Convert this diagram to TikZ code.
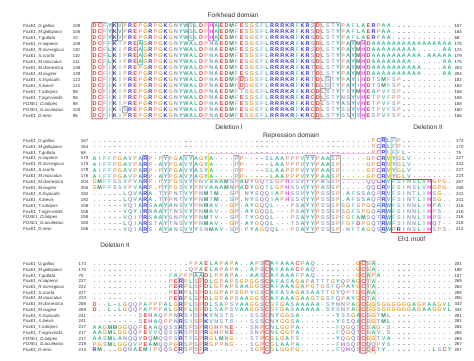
\documentclass[tikz,border=0pt]{standalone}
\usepackage{fontspec}
\setmainfont{Liberation Sans}
\definecolor{aaA}{HTML}{33B890}
\definecolor{aaC}{HTML}{E8484A}
\definecolor{aaD}{HTML}{E83838}
\definecolor{aaE}{HTML}{E83838}
\definecolor{aaF}{HTML}{7CC8C8}
\definecolor{aaG}{HTML}{E8A030}
\definecolor{aaH}{HTML}{E040E0}
\definecolor{aaI}{HTML}{58B8A8}
\definecolor{aaK}{HTML}{3838D8}
\definecolor{aaL}{HTML}{40B088}
\definecolor{aaM}{HTML}{2E9060}
\definecolor{aaN}{HTML}{9098B8}
\definecolor{aaP}{HTML}{E0A080}
\definecolor{aaQ}{HTML}{9C90C8}
\definecolor{aaR}{HTML}{3838D8}
\definecolor{aaS}{HTML}{98A8C8}
\definecolor{aaT}{HTML}{98A8C8}
\definecolor{aaV}{HTML}{58B8A8}
\definecolor{aaW}{HTML}{40B0A0}
\definecolor{aaY}{HTML}{30A8B0}
\definecolor{gapc}{HTML}{B0B0B0}
\definecolor{txtc}{HTML}{333333}
\definecolor{boxgray}{HTML}{707C7C}
\definecolor{boxred}{HTML}{E03C3C}
\definecolor{boxblue}{HTML}{4848C8}
\definecolor{boxmag}{HTML}{D048C8}
\definecolor{boxteal}{HTML}{40A8A0}
\definecolor{boxorange}{HTML}{E0A040}
\definecolor{boxyellow}{HTML}{F2E23A}
\def\Gten{----------}
\def\Gfive{-----}
\makeatletter
\def\sq@loop#1{\ifx#1\relax\else\seqchar#1\expandafter\sq@loop\fi}
\newcommand\seqline[1]{\edef\sq@tmp{#1}\expandafter\sq@loop\sq@tmp\relax}
\makeatother
\newcommand\seqchar[1]{\makebox[5.07pt][c]{\if-#1\textcolor{gapc}{\rule[1.6pt]{1.2pt}{0.5pt}}\else\textcolor{aa#1}{#1}\fi}}
\newcommand\srow[6]{%
  \node[nm] (n#1) at (23,#2) {#3};
  \node[num] (a#1) at (\numx,#2) {#4};
  \node[sq] (s#1) at (91.97,#2) {\seqline{#5}};
  \node[num] (e#1) at (\rnumx,#2) {#6};}
\newcommand\cb[7]{\draw[#1] ({94.5+5.07*(#4)-2.55},{#2+#3*(#6)-3.1}) rectangle ({94.5+5.07*(#5)+2.55},{#2+#3*(#7)+3.1});}
\tikzset{
  nm/.style={anchor=west, inner sep=0, text=txtc, font=\fontsize{4.4}{4.4}\selectfont\itshape, text height=3.1pt, text depth=0pt},
  num/.style={anchor=west, inner sep=0, text=txtc, font=\fontsize{4.4}{4.4}\selectfont, text height=3.1pt, text depth=0pt},
  sq/.style={anchor=west, inner sep=0, font=\fontsize{5.5}{5.5}\selectfont\bfseries, text height=3.95pt, text depth=0pt},
  lbl/.style={inner sep=0, text=txtc, font=\fontsize{6.5}{6.5}\selectfont},
  gb/.style={draw=boxgray, line width=0.55pt, rounded corners=0.6pt},
  rb/.style={draw=boxred, line width=0.55pt, rounded corners=0.6pt},
  bb/.style={draw=boxblue, line width=0.6pt, rounded corners=0.6pt},
  mb/.style={draw=boxmag, line width=0.55pt, rounded corners=0.6pt},
  tb/.style={draw=boxteal, line width=0.55pt, rounded corners=0.6pt},
  ob/.style={draw=boxorange, line width=0.55pt, rounded corners=0.6pt},
  eh/.style={draw=boxred, line width=0.8pt},
  yb/.style={draw=boxyellow, line width=0.9pt}
}
\begin{document}
\begin{tikzpicture}[x=1pt,y=-1pt]
\useasboundingbox (0,0) rectangle (474,361);
\fill[white] (0,0) rectangle (474,361);
% ---------------- block 1
\def\numx{72.7}\def\rnumx{454.3}
\srow{A1}{25.7}{FoxE1\_G.gallus}{109}{DCFYKVPREPGRPGKGNYWSLDPHAEDMFESGSFLRRRKRFKRSDLSTYPAFLAERPAA\Gten --}{167}
\srow{A2}{31.7}{FoxE1\_M.gallopavo}{106}{DCFYKVPREPGRPGKGNYWSLDPHAEDMFESGSFLRRRKRFKRSDLSTYPAFLAERPAA\Gten --}{164}
\srow{A3}{37.7}{FoxE1\_T.guttata}{10}{DCFYKVPREPGRPGKGNYWSLDPHAEDMFESGSFLRRRKRFKRSDLSTYPAFLAERPAA\Gten --}{68}
\srow{A4}{43.7}{FoxE1\_H.sapiens}{109}{DCFFKIPREAGRPGKGNYWALDPNAEDMFESGSFLRRRKRFKRSDLSTYPAYMHDAAAAAAAAAAAAAAAA}{179}
\srow{A5}{49.7}{FoxE1\_R.norvegicus}{110}{DCFLKIPREAGRPGKGNYWALDPNAEDMFESGSFLRRRKRFKRSDLSTYPAYMHDAAAAAAAAA-----AA}{174}
\srow{A6}{55.7}{FoxE1\_S.scorfa}{110}{DCFLKIPREAGRPGKGNYWALDPNAEDMFESGSFLRRRKRFKRSDLSTYPAYMHDAAAAAAAAAA-AAAAA}{179}
\srow{A7}{61.7}{FoxE1\_M.musculus}{111}{DCFLKIPREAGRPGKGNYWALDPNAEDMFESGSFLRRRKRFKRSDLSTYPAYMHDAAAAAAAA------AA}{175}
\srow{A8}{67.7}{FoxE1\_M.domestica}{138}{DCFIKIPREPGRPGKGNYWALDPNAEDMFESGSFLRRRKRFKRTDLSTYPAYMHDAAAAAAAAAA----AA}{203}
\srow{A9}{73.7}{FoxE1\_M.eugeni}{139}{DCFIKIPREPGRPGKGNYWALDPNAEDMFESGSFLRRRKRFKRTDLSTYPAYMHDAAAAAAAAAA----AA}{204}
\srow{A10}{79.7}{FoxE1\_X.tropicalis}{122}{DCFIKIPREPGRPGKGNYWALDPNAEDMFDSGSFLRRRKRFKRTDLSTYPAYIHDTSMFSP\Gten}{182}
\srow{A11}{85.7}{FoxE1\_X.laevis}{122}{DCFIKIPREPGRPGKGNYWALDPNAEDMFDSGSFLRRRKRFKRTDLSTYPAYIHDTSMFSP\Gten}{182}
\srow{A12}{91.7}{FoxE1\_T.rubripes}{98}{DCFIKIPREPGRPGKGNYWALDPNAEDMFTSGSFLRRRKRFKRCDLSTYTSYMHEAPVFSP\Gten}{158}
\srow{A13}{97.7}{FoxE1\_T.nigroviridis}{98}{DCFIKIPREPGRPGKGNYWALDPNAEDMFESGSFLRRRKRFKRCDLSTYNSYVHETPVFPP\Gten}{158}
\srow{A14}{103.7}{FOXE1\_O.latipes}{98}{DCFIKIPREPGRPGKGNYWALDPNAEDMFESGSFLRRRKRFKRCDLSTYASYVHETPVFSP\Gten}{158}
\srow{A15}{109.7}{FOXE1\_G.aculeatus}{100}{DCFIKISREPGRPGKGNYWALDPNAEDMFESGSFLRRRKRFKRCDLSTYSSYVHETPVFSP\Gten}{160}
\srow{A16}{115.7}{FoxE1\_D.rerio}{96}{DCFIKIPREPGRPGKGNYWALDPNAEDMFESGSFLRRRKRFKRCDLSTYSSYVHESPVFSP\Gten}{156}
% ---------------- block 2
\def\numx{80.7}\def\rnumx{456}
\srow{B1}{140.7}{FoxE1\_G.gallus}{167}{\Gten\Gten\Gten\Gten\Gten\Gfive PCRLFP\Gten}{173}
\srow{B2}{146.6}{FoxE1\_M.gallopavo}{164}{\Gten\Gten\Gten\Gten\Gten\Gfive PCRLFP\Gten}{170}
\srow{B3}{152.5}{FoxE1\_T.guttata}{68}{\Gten\Gten\Gten\Gten\Gten\Gfive PCRLFFL\Gfive ----}{75}
\srow{B4}{158.4}{FoxE1\_H.sapiens}{179}{AIFFPGAVPARP-PYPGAVYAGYA----PP----SLAAPPPVYYPAASP\Gfive GPCRVYGLV--------}{227}
\srow{B5}{164.3}{FoxE1\_R.norvegicus}{175}{AIFFPGAVPARP-AYPGAVYAGYA----PP-----LAAPPPVYYPAASP\Gfive GPCRVYGLV--------}{222}
\srow{B6}{170.2}{FoxE1\_S.scorfa}{179}{AIFFPGAVPARP-PYPGAVYASYA----PP----SLAAPPPVYYPAASP\Gfive GPCRVYGLV--------}{227}
\srow{B7}{176.1}{FoxE1\_M.musculus}{176}{AIFFPGAVPARP-AYPGAVYAGYA----PP-----LAAPPPVYYPAASP\Gfive GPCRVYGLV--------}{223}
\srow{B8}{182.0}{FoxE1\_M.domestica}{204}{GMFFSSVPVARP-PYPGSVYPNVAAAMSPADYGQTLGPHSSVYYPASSP\Gfive QQCRVFSINSLVHGPG-}{267}
\srow{B9}{187.9}{FoxE1\_M.eugeni}{205}{GMFFSSVPVARP-PYPGSVYPNVAAAMNPADYGQTLGPHSSVYYPASSP\Gfive QQCRVFSINSLVHGPG-}{268}
\srow{B10}{193.8}{FoxE1\_X.tropicalis}{182}{------LQVARA-TYPNTVYPNMTM--SP-NYSQQIAPHSSVYYPSSSP-AFSSAQPRVFSINTLIHSG--}{241}
\srow{B11}{199.7}{FoxE1\_X.laevis}{182}{------LQVARA-TYPNTVYPNMTM--SP-NYSQQIAPHSSVYYPSSSP-AFSSAQPRVFSINTLIHSG--}{241}
\srow{B12}{205.6}{FoxE1\_T.rubripes}{158}{------VQIARSAAYANSVYPNMAV--GP-AYGQQL---PSAYYPSSSPSGFSPGQARWFSINNLIHPA--}{216}
\srow{B13}{211.5}{FoxE1\_T.nigroviridis}{158}{------VQYIRNAAYTNSVYPNMAV--GP-AYGQQL---PSAYYPSSSPSGFSPGQARWFSINNLIHPS--}{216}
\srow{B14}{217.4}{FOXE1\_O.latipes}{158}{------VQIPRSAAYSNPVYPNMTV--SP-TYGQQL---PSAYYPSSSPFGFAMSQTRWFSINNLIHPS--}{216}
\srow{B15}{223.3}{FOXE1\_G.aculeatus}{160}{------LQIARSTAYTNSVYPNMAV--GP-AYGQQL---TSAYYPSSSPFGFDPGQTRWFSINNLIHQT--}{218}
\srow{B16}{229.2}{FoxE1\_D.rerio}{156}{------VQIARS-AYANSVYYSNMAV-SP-PYAGQQL--PSAYYPSSSP-NFTAGQSRWPRINSLIHSPS-}{212}
% ---------------- block 3
\def\numx{78.5}\def\rnumx{454.3}
\srow{C1}{264}{FoxE1\_G.gallus}{173}{\Gten ---------PPAELAPAPA--APSCAFAAACPAQ--------GCSA\Gten\Gfive}{201}
\srow{C2}{269.73}{FoxE1\_M.gallopavo}{170}{\Gten ---------QPAELAPAPA--APSCAFAAACPAQ--------GCSA\Gten\Gfive}{198}
\srow{C3}{275.46}{FoxE1\_T.guttata}{75}{\Gten\Gfive FAPPPAADLPPAPA--AASCAFAAAFPAQ--------GCAPA\Gten ----}{107}
\srow{C4}{281.19}{FoxE1\_H.sapiens}{227}{\Gten\Gfive PERPLSPDLGPAPSGPGGSCAFASAGAPATTTGYQPAGCTA\Gten\Gfive}{269}
\srow{C5}{286.92}{FoxE1\_R.norvegicus}{222}{\Gten\Gfive PERPLSPDLGPAPSAAGGSCAFAAAGAPGTGSFQPAYGCTA\Gten\Gfive}{264}
\srow{C6}{292.65}{FoxE1\_S.scorfa}{227}{\Gten\Gfive PERPLSPDLGPAPSGPVGSCAFASAGASAATTGYQPTGCAA\Gten\Gfive}{269}
\srow{C7}{298.38}{FoxE1\_M.musculus}{223}{\Gten\Gfive PERPLSPDLGPAPSAAGGSCAFAAAGAAGTGSFQPAYGCTA\Gten\Gfive}{265}
\srow{C8}{304.11}{FoxE1\_M.domestica}{268}{D--L-LGQQPAPPPALGRPLSPDLSAPSVAAGGSCGFGASAAAAA-SYNNPAGCGGSGGGGGGAGPAAGVL}{333}
\srow{C9}{309.84}{FoxE1\_M.eugeni}{269}{D--L-LGQQPAPPPALGRPLSPDLSAPSVAAGGSCGFGASAAAAA-SYSNPAGCGGSGGGGGGAGAAGGVL}{334}
\srow{C10}{315.57}{FoxE1\_X.tropicalis}{241}{---------SEHAQPPNRSISPKVNSTS---SSSCNYGGSA-------YSSGACSGTML\Gten --}{281}
\srow{C11}{321.3}{FoxE1\_X.laevis}{241}{---------SEHAQPPNRSISPKVNSTS---SSSCNYGGSA-------YSSQACSGTML\Gten --}{281}
\srow{C12}{327.03}{FoxE1\_T.rubripes}{217}{AAGMMGGQQPEAAQQSSRSPSPRGHPNE---SNPCNLGGPA-------FQGQTCSAG-S\Gten --}{264}
\srow{C13}{332.76}{FoxE1\_T.nigroviridis}{217}{AAGMLGGQQPEVVQQSSRSPSPRGHPNE---SNPCNLGGPA-------FQGQTCSAV-S\Gten --}{264}
\srow{C14}{338.49}{FOXE1\_O.latipes}{217}{AASMLANQQVDQMQQPSRTFSPRGLMNG---STPCGLGAPS-------YQGQSCGGTVA\Gten --}{265}
\srow{C15}{344.22}{FOXE1\_G.aculeatus}{219}{PGSMLGGQVPEAMQQPGRSPSPRGPPNG---SGPCGLAAPA-------FHSQPCQQPYS\Gten --}{267}
\srow{C16}{349.95}{FoxE1\_D.rerio}{213}{RM---GQNAEMIPQQSCRSPSPR--------SGPCGLGGPG-------FQHQSCQETY---------LSCY}{257}
% ---------------- boxes block 1
\cb{gb}{25.7}{6}{0}{2}{0}{15}
\cb{rb}{25.7}{6}{0}{1}{0}{15}
\cb{bb}{25.7}{6}{4}{4}{0}{2}
\cb{gb}{25.7}{6}{5}{5}{0}{2}
\cb{gb}{25.7}{6}{4}{43}{0}{15}
\cb{tb}{25.7}{6}{9}{9}{3}{6}
\cb{gb}{25.7}{6}{6}{6}{14}{14}
\cb{gb}{25.7}{6}{19}{19}{0}{2}
\cb{mb}{25.7}{6}{23}{23}{0}{2}
\cb{tb}{25.7}{6}{24}{24}{0}{2}
\cb{rb}{25.7}{6}{29}{29}{9}{10}
\cb{gb}{25.7}{6}{44}{48}{0}{15}
\cb{rb}{25.7}{6}{44}{44}{0}{15}
\cb{gb}{25.7}{6}{46}{46}{9}{10}
\cb{gb}{25.7}{6}{45}{45}{11}{12}
\cb{gb}{25.7}{6}{51}{51}{3}{15}
\cb{mb}{25.7}{6}{53}{53}{3}{15}
% ---------------- boxes block 2
\cb{bb}{140.7}{5.9}{10}{10}{3}{15}
\cb{gb}{140.7}{5.9}{14}{14}{3}{15}
\cb{gb}{140.7}{5.9}{18}{19}{3}{15}
\cb{gb}{140.7}{5.9}{28}{28}{3}{15}
\cb{gb}{140.7}{5.9}{42}{43}{3}{15}
\cb{gb}{140.7}{5.9}{47}{48}{3}{15}
\cb{bb}{140.7}{5.9}{57}{57}{0}{15}
\cb{gb}{140.7}{5.9}{59}{59}{0}{6}
\cb{eh}{140.7}{5.9}{59}{66}{7}{15}
\draw[yb] (208,153) rectangle (390,179.5);
% ---------------- boxes block 3
\cb{bb}{264}{5.73}{17}{17}{3}{15}
\cb{gb}{264}{5.73}{20}{21}{2}{15}
\cb{rb}{264}{5.73}{21}{21}{3}{15}
\cb{gb}{264}{5.73}{33.75}{34.25}{0}{15}
\cb{rb}{264}{5.73}{34}{34}{0}{15}
\cb{gb}{264}{5.73}{52.75}{53.25}{0}{15}
\cb{rb}{264}{5.73}{53}{53}{0}{15}
\cb{ob}{264}{5.73}{55}{55}{0}{15}
% ---------------- labels
\node[lbl] (fh) at (233,15) {Forkhead domian};
\node[lbl] (d1) at (229,127.5) {Deletion I};
\node[lbl] (rd) at (291,136) {Repression domain};
\node[lbl] (d2) at (428,127.5) {Deletion II};
\node[lbl] (d2b) at (115,245) {Deletion II};
\node[lbl] (eh1) at (411.5,239) {Eh1 motif};
\end{tikzpicture}
\end{document}
